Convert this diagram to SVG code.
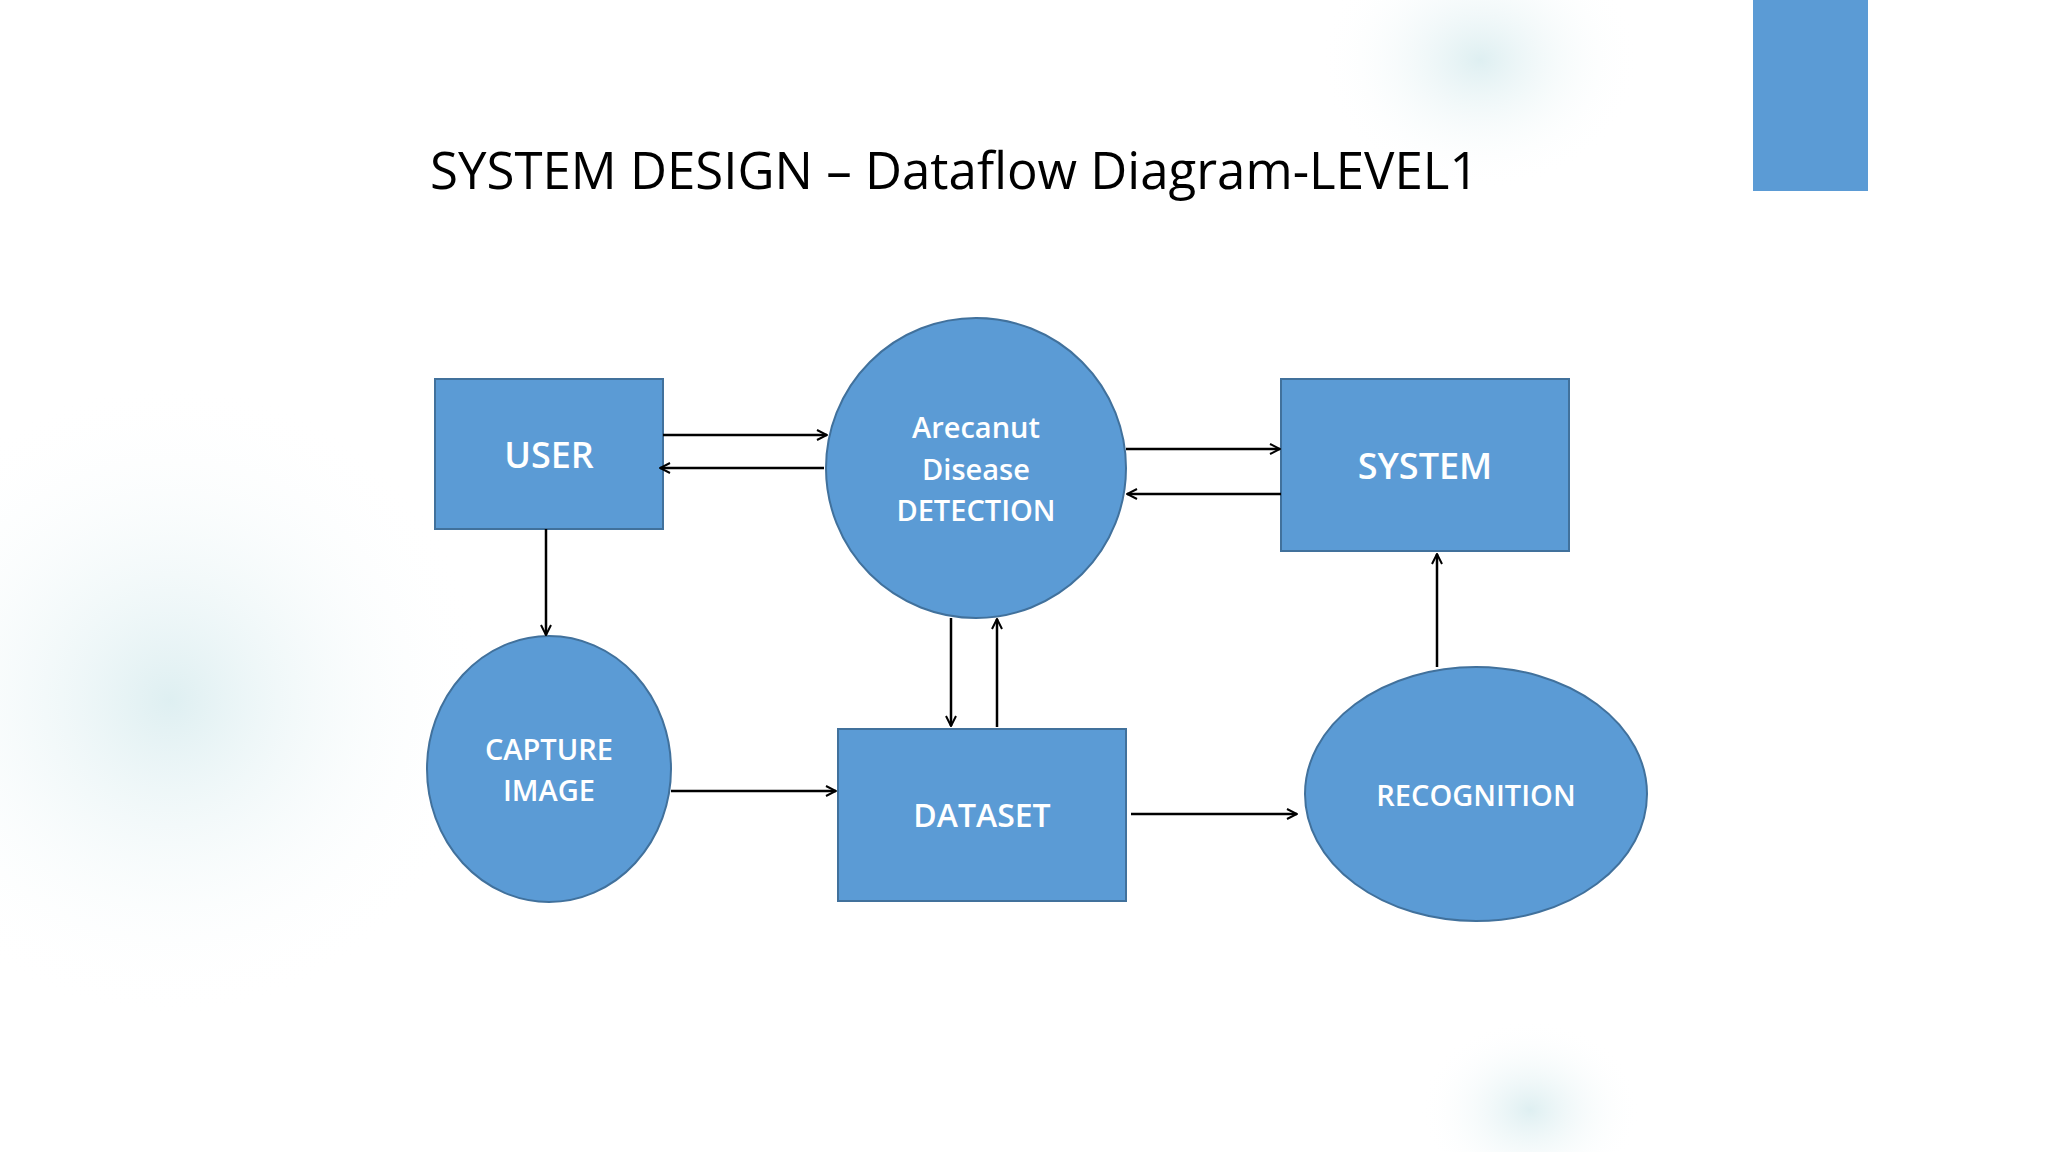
<svg xmlns="http://www.w3.org/2000/svg" width="2048" height="1152" viewBox="0 0 2048 1152">
<defs>
<radialGradient id="blob"><stop offset="0" stop-color="#d6ebee" stop-opacity="0.8"/><stop offset="1" stop-color="#ffffff" stop-opacity="0"/></radialGradient>
<marker id="ah" viewBox="0 0 12 12" refX="11" refY="6" markerWidth="12" markerHeight="12" markerUnits="userSpaceOnUse" orient="auto"><path d="M1,1 L11,6 L1,11" fill="none" stroke="#000" stroke-width="2"/></marker>
<style>
.n{fill:#5b9bd5;stroke:#41719c;stroke-width:2}
.t{fill:#fff;font-family:"Open Sans","Liberation Sans",sans-serif;font-weight:600;text-anchor:middle}
.c line{stroke:#000;stroke-width:2.5;marker-end:url(#ah)}
</style>
</defs>
<rect width="2048" height="1152" fill="#fff"/>
<ellipse cx="170" cy="700" rx="320" ry="320" fill="url(#blob)"/>
<ellipse cx="1480" cy="60" rx="160" ry="130" fill="url(#blob)"/>
<ellipse cx="1530" cy="1110" rx="110" ry="90" fill="url(#blob)"/>
<rect x="1753" y="0" width="115" height="191" fill="#5b9bd5"/>
<text x="430" y="189" font-family="'Open Sans','Liberation Sans',sans-serif" font-size="51" fill="#000">SYSTEM DESIGN – Dataflow Diagram-LEVEL1</text>
<g id="user"><rect class="n" x="435" y="379" width="228" height="150"/><text class="t" x="549" y="468" font-size="36">USER</text></g>
<g id="detect"><circle class="n" cx="976" cy="468" r="150"/><text class="t" font-size="29"><tspan x="976" y="438">Arecanut</tspan><tspan x="976" y="480">Disease</tspan><tspan x="976" y="521">DETECTION</tspan></text></g>
<g id="system"><rect class="n" x="1281" y="379" width="288" height="172"/><text class="t" x="1425" y="479" font-size="36">SYSTEM</text></g>
<g id="capture"><ellipse class="n" cx="549" cy="769" rx="122" ry="133"/><text class="t" font-size="29"><tspan x="549" y="760">CAPTURE</tspan><tspan x="549" y="801">IMAGE</tspan></text></g>
<g id="dataset"><rect class="n" x="838" y="729" width="288" height="172"/><text class="t" x="982" y="827" font-size="32">DATASET</text></g>
<g id="recog"><ellipse class="n" cx="1476" cy="794" rx="171" ry="127"/><text class="t" x="1476" y="806" font-size="29">RECOGNITION</text></g>
<g class="c">
<line x1="663" y1="435" x2="827" y2="435"/>
<line x1="824" y1="468" x2="660" y2="468"/>
<line x1="1126" y1="449" x2="1280" y2="449"/>
<line x1="1281" y1="494" x2="1127" y2="494"/>
<line x1="546" y1="529" x2="546" y2="635"/>
<line x1="951" y1="618" x2="951" y2="726"/>
<line x1="997" y1="727" x2="997" y2="619"/>
<line x1="671" y1="791" x2="836" y2="791"/>
<line x1="1131" y1="814" x2="1297" y2="814"/>
<line x1="1437" y1="667" x2="1437" y2="554"/>
</g>
</svg>
